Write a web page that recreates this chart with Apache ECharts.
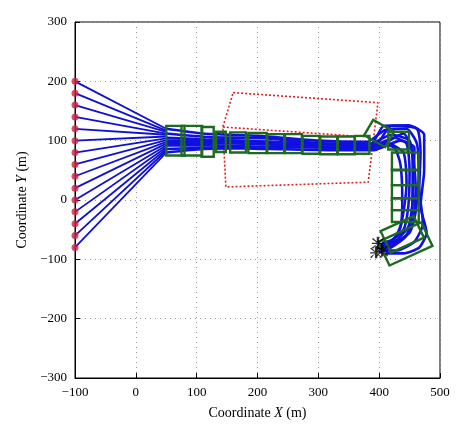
<!doctype html>
<html lang="en">
<head>
  <meta charset="UTF-8">
  <title>Trajectories</title>
</head>
<body style="margin:0;background:#fff">
<div id="main" style="width: 474px;height: 438px"></div>
<script src="https://cdn.jsdelivr.net/npm/echarts@6/dist/echarts.min.js"></script>
<script>
    // start points (red) and where their first legs end
    var startY = [200, 180, 160, 140, 120, 100, 80, 60, 40, 20, 0, -20, -40, -60, -80];
    var fanEndY = [120, 117, 115, 112, 110, 107, 104, 101, 98, 95, 92, 89, 86, 83, 80];

    // blue trajectory bundle after the fan
    var paths = [
        [[50, 120], [110, 112], [200, 108], [300, 100], [380, 98], [410, 118], [445, 120], [462, 95], [465, 40], [460, -20], [450, -55], [420, -75], [405, -82]],
        [[50, 112], [120, 106], [210, 104], [300, 96], [385, 95], [420, 110], [450, 100], [455, 60], [455, 0], [448, -45], [425, -70], [402, -78]],
        [[50, 105], [115, 102], [220, 98], [310, 94], [390, 92], [425, 105], [445, 95], [450, 50], [448, -10], [440, -50], [415, -72], [398, -75]],
        [[50, 98], [130, 96], [230, 94], [320, 90], [390, 88], [420, 125], [462, 120], [468, 80], [466, 20], [472, -40], [458, -70], [430, -85], [405, -85]],
        [[50, 92], [120, 92], [210, 90], [310, 88], [395, 86], [435, 100], [458, 88], [456, 30], [453, -30], [445, -60], [420, -80], [400, -88]],
        [[50, 86], [125, 88], [220, 86], [320, 84], [392, 84], [415, 95], [440, 80], [445, 30], [440, -20], [432, -55], [410, -78], [396, -82]],
        [[50, 80], [110, 86], [200, 88], [300, 90], [385, 92], [408, 125], [448, 126], [474, 110], [474, 50], [468, -10], [478, -55], [466, -80], [440, -90], [410, -90]],
        [[50, 100], [140, 100], [240, 97], [330, 93], [395, 90], [440, 112], [455, 80], [460, 20], [455, -40], [440, -65], [412, -80]],
        [[50, 95], [150, 97], [250, 92], [340, 91], [400, 94], [425, 88], [435, 60], [438, 0], [436, -40], [425, -65], [405, -72]]
    ];

    // green vehicle outlines: centre x, centre y, width, height, angle (deg)
    var boxes = [
        [65, 100, 30, 50, 0], [92, 100, 34, 50, 0], [118, 98, 20, 50, 0], [140, 98, 16, 34, 0],
        [168, 97, 26, 34, 0], [200, 96, 30, 34, 0], [230, 95, 28, 32, 0], [259, 95, 28, 32, 0],
        [288, 93, 28, 30, 0], [317, 92, 28, 30, 0], [346, 92, 28, 30, 0], [372, 93, 24, 30, 0],
        [400, 112, 40, 30, -30], [432, 100, 34, 30, 0], [443, 65, 44, 30, 0], [443, 38, 44, 26, 0],
        [443, 14, 44, 22, 0], [443, -7, 44, 20, 0], [443, -27, 44, 20, 0], [438, -58, 60, 40, 25],
        [443, -74, 78, 44, 25]
    ];

    // red dotted obstacle outline and its inner edge
    var obstacle = [[160, 181], [398, 164], [382, 30], [148, 22], [143, 123], [160, 181]];
    var obstacleInner = [[143, 123], [386, 106]];
    var goal = [[398, -72], [405, -85], [395, -88]];

    var series = [];
    startY.forEach(function (y, i) {
        series.push({type: 'line', data: [[-100, y], [50, fanEndY[i]]], symbol: 'none',
            lineStyle: {color: '#1010d0', width: 1.8}, silent: true, z: 2});
    });
    paths.forEach(function (p) {
        series.push({type: 'line', data: p, symbol: 'none', smooth: 0.2,
            lineStyle: {color: '#1010e0', width: 2.6}, silent: true, z: 2});
    });
    series.push({type: 'line', data: obstacle, symbol: 'none',
        lineStyle: {color: '#e02020', width: 1.6, type: [2, 2]}, z: 1});
    series.push({type: 'line', data: obstacleInner, symbol: 'none',
        lineStyle: {color: '#e02020', width: 1.6, type: [2, 2]}, z: 1});
    series.push({
        type: 'custom', data: boxes, z: 3,
        renderItem: function (params, api) {
            var cx = api.value(0), cy = api.value(1), w = api.value(2), h = api.value(3);
            var a = api.value(4) * Math.PI / 180;
            var pts = [[-w / 2, -h / 2], [w / 2, -h / 2], [w / 2, h / 2], [-w / 2, h / 2]].map(function (c) {
                return api.coord([cx + c[0] * Math.cos(a) - c[1] * Math.sin(a), cy + c[0] * Math.sin(a) + c[1] * Math.cos(a)]);
            });
            return {type: 'polygon', shape: {points: pts}, style: {fill: 'none', stroke: '#1e6a1e', lineWidth: 2.4}};
        }
    });
    series.push({type: 'scatter', data: goal, symbol: 'path://M4,0H6V4L9,1L10,2L6,5H10V6H6L10,9L9,10L6,6V10H4V6L1,10L0,9L4,6H0V5H4L0,2L1,1L4,4Z',
        symbolSize: 12, itemStyle: {color: '#000'}, z: 4});
    series.push({type: 'scatter', data: startY.map(function (y) { return [-100, y]; }),
        symbolSize: 7, itemStyle: {color: '#d02040'}, z: 5});

    var font = 'Liberation Serif';
    var nameRich = {a: {fontFamily: font, fontSize: 14, color: '#000'}, b: {fontFamily: font, fontSize: 14, fontStyle: 'italic', color: '#000'}};
    var myCharts = echarts.init(document.querySelector('#main'));
    myCharts.setOption({
        animation: false,
        grid: {left: 75, right: 34, top: 22, bottom: 60},
        xAxis: {
            type: 'value', min: -100, max: 500, interval: 100,
            name: '{a|Coordinate }{b|X}{a| (m)}', nameLocation: 'middle', nameGap: 28,
            nameTextStyle: {rich: nameRich},
            axisLine: {onZero: false, lineStyle: {color: '#000'}},
            axisTick: {inside: true, lineStyle: {color: '#000'}},
            axisLabel: {fontFamily: font, fontSize: 13, color: '#000',
                formatter: function (v) { return v < 0 ? '\u2212' + (-v) : v; }},
            splitLine: {show: true, lineStyle: {color: '#999', type: [1, 4]}}
        },
        yAxis: {
            type: 'value', min: -300, max: 300, interval: 100,
            name: '{a|Coordinate }{b|Y}{a| (m)}', nameLocation: 'middle', nameGap: 44,
            nameTextStyle: {rich: nameRich},
            axisLine: {onZero: false, lineStyle: {color: '#000'}},
            axisTick: {inside: true, lineStyle: {color: '#000'}},
            axisLabel: {fontFamily: font, fontSize: 13, color: '#000',
                formatter: function (v) { return v < 0 ? '\u2212' + (-v) : v; }},
            splitLine: {show: true, lineStyle: {color: '#999', type: [1, 4]}}
        },
        graphic: [{type: 'rect', shape: {x: 75, y: 22, width: 365, height: 356},
            style: {fill: 'none', stroke: '#000', lineWidth: 1}, silent: true}],
        series: series
    });
</script>
</body>
</html>
